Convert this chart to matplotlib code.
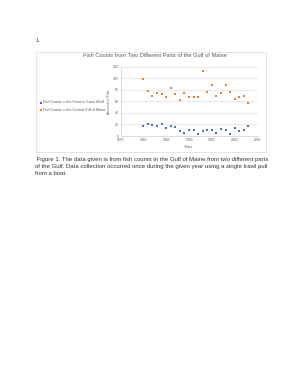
import numpy as np
import matplotlib
matplotlib.use("Agg")
import matplotlib.pyplot as plt
from matplotlib.patches import Rectangle

plt.rcParams["font.family"] = ["Liberation Sans", "DejaVu Sans"]

years = list(range(1980, 2004))
eastern_shelf = [17, 21, 19, 18, 21, 14, 17, 15, 9, 6, 10, 11, 3, 9, 11, 10, 6, 12, 10, 4, 13, 9, 11, 17]
central_gulf = [98, 78, 70, 75, 73, 68, 83, 72, 62, 75, 68, 68, 67, 112, 77, 89, 70, 75, 89, 76, 64, 67, 69, 58]
x_ticks = [1975, 1980, 1985, 1990, 1995, 2000, 2005]
y_ticks = [0, 20, 40, 60, 80, 100, 120]

W, H = 300, 388
fig = plt.figure(figsize=(W / 100, H / 100), dpi=100)
fig.patch.set_facecolor("white")

# chart frame
fig.patches.append(Rectangle((36 / W, 1 - 152 / H), 230 / W, 100 / H, transform=fig.transFigure,
                             fill=False, edgecolor="#d9d9d9", linewidth=0.5))
fig.text(36 / W, 1 - 40 / H, "1.", fontsize=4, color="#333333", va="center", ha="left")

ax = fig.add_axes([120.5 / W, 1 - 136 / H, 137 / W, 69.3 / H])
ax.scatter(years, eastern_shelf, marker="s", s=3, color="#4472C4", linewidths=0,
           label="Fish Counts in the Eastern Coast Shelf", zorder=3)
ax.scatter(years, central_gulf, marker="s", s=3, color="#ED7D31", linewidths=0,
           label="Fish Counts in the Central Gulf of Maine", zorder=3)
ax.set_xlim(1975, 2005)
ax.set_ylim(0, 120)
ax.set_xticks(x_ticks)
ax.set_yticks(y_ticks)
ax.tick_params(labelsize=2.4, length=0, pad=1.5, colors="#595959")
ax.set_xticks([1980, 1990, 2000], minor=True)
ax.grid(True, which="major", axis="y", color="#d9d9d9", linewidth=0.4)
ax.grid(True, which="minor", axis="x", color="#d9d9d9", linewidth=0.4)
ax.tick_params(which="minor", length=0)
for s in ax.spines.values():
    s.set_visible(False)
for side in ("bottom", "left"):
    ax.spines[side].set_visible(True)
    ax.spines[side].set_color("#bfbfbf")
    ax.spines[side].set_linewidth(0.4)
ax.set_xlabel("Years", fontsize=2.6, color="#595959", labelpad=2)
ax.set_ylabel("Amount of Fish", fontsize=2.6, color="#595959", labelpad=1.5)
ax.set_title("Fish Counts from Two Different Parts of the Gulf of Maine",
             fontsize=4.1, color="#595959", x=(155 - 120.5) / 137, pad=7)

ax.legend(loc="center left", bbox_to_anchor=(38 / W, 1 - 106 / H), bbox_transform=fig.transFigure,
          fontsize=2.5, frameon=False, handlelength=0.6, handletextpad=0.3, markerscale=1.0,
          labelspacing=0.9, borderpad=0, labelcolor="#595959")

caption = (" Figure 1. The data given is from fish counts in the Gulf of Maine from two different parts\n"
           "of the Gulf. Data collection occurred once during the given year using a single trawl pull\n"
           "from a boat.")
fig.text(35 / W, 1 - 157 / H, caption, fontsize=4.3, color="#333333", va="top", ha="left",
         linespacing=1.55)

fig.savefig("out.png", dpi=100)
